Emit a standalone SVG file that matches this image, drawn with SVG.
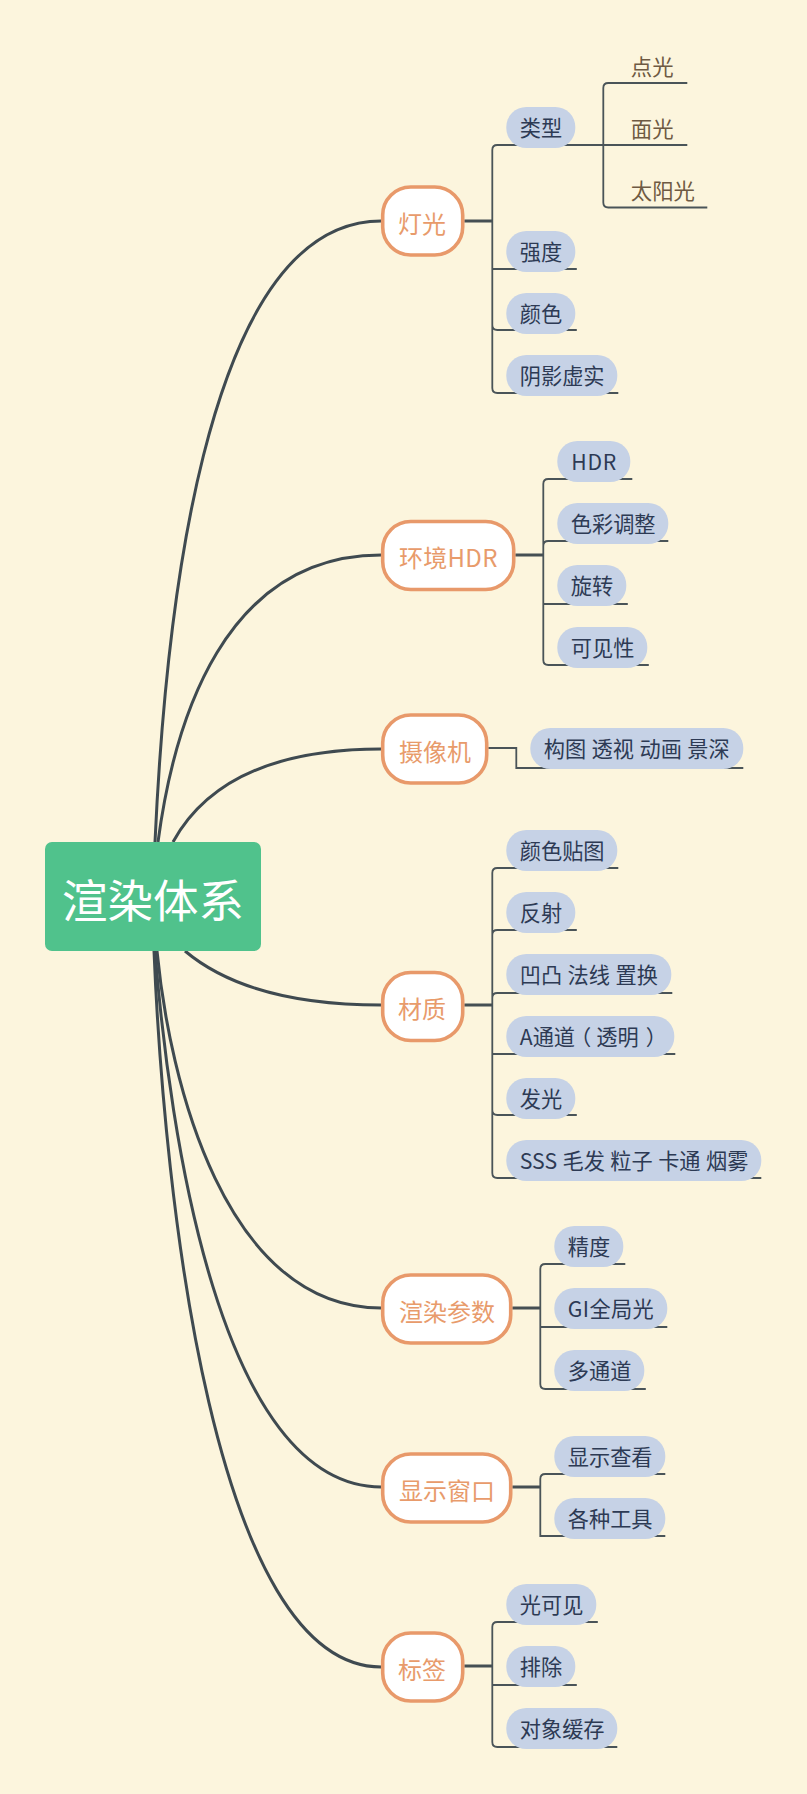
<svg xmlns="http://www.w3.org/2000/svg" width="807" height="1794" viewBox="0 0 807 1794">
<style>
text{font-family:"Noto Sans CJK SC","Noto Sans",sans-serif}
.c{fill:none;stroke:#3f4a50;stroke-width:3}
.t{fill:none;stroke:#4a5458;stroke-width:1.8}
.m{fill:none;stroke:#454f53;stroke-width:3}
.n rect{fill:#fff;stroke:#e8996a;stroke-width:3.6}
.n text{fill:#e89b6b;font-size:24px}
.p rect{fill:#c6d2e6}
.p text{fill:#2d3a54;font-size:21.2px}
.s text{fill:#6e5a43;font-size:21.4px}
.w{word-spacing:.7px}
</style>
<rect width="807" height="1794" fill="#fcf5dd"/>
<g id="connectors" transform="translate(-.7 0)">
<path class="c" d="M155.700,842C165,640 200,221 382,221"/>
<path class="c" d="M158.700,842C175,720 225,555 382,555"/>
<path class="c" d="M173.700,842Q225,749 382,749"/>
<path class="c" d="M185.700,951Q250,1005 382,1005"/>
<path class="c" d="M157.700,951C170,1080 225,1308 382,1308"/>
<path class="c" d="M155.700,951C170,1130 220,1487 382,1487"/>
<path class="c" d="M154.700,951C165,1200 215,1667 382,1667"/>
<path class="m" d="M465,221H493M516,555H544M465,1005H493M513,1308H541M513,1487H541M465,1666H493"/>
<path class="t" d="M489,748H517V768H744"/>
<path class="t" d="M493,221V150Q493,145 498,145H604M493,221V269H577.500M493,221V325Q493,330 498,330H577.500M493,221V388Q493,393 498,393H619"/>
<path class="t" d="M604,145V88Q604,83 609,83H688M604,145H688M604,145V202.500Q604,207.500 609,207.500H708"/>
<path class="t" d="M544,555V484Q544,479 549,479H633M544,555V546Q544,541 549,541H669M544,555V604H628.500M544,555V660Q544,665 549,665H649.500"/>
<path class="t" d="M493,1005V873Q493,868 498,868H619M493,1005V935Q493,930 498,930H577.500M493,1005V998Q493,993 498,993H673M493,1005V1054H676M493,1005V1110Q493,1115 498,1115H577.500M493,1005V1173Q493,1178 498,1178H762"/>
<path class="t" d="M541,1308V1269Q541,1264 546,1264H626M541,1308V1327H668M541,1308V1384Q541,1389 546,1389H646.500"/>
<path class="t" d="M541,1487V1479Q541,1474 546,1474H666M541,1487V1536H666"/>
<path class="t" d="M493,1666V1627Q493,1622 498,1622H598.500M493,1666V1685H577.500M493,1666V1742Q493,1747 498,1747H618"/>
</g>
<g id="root"><rect x="45" y="842" width="216" height="109" rx="7" fill="#50c28c"/><text x="62" y="918" font-size="45.500" fill="#fff">渲染体系</text></g>
<g id="nodes" transform="translate(-.7 0)">
<g id="light" class="n"><rect x="383.400" y="187" width="80" height="68" rx="28"/><text x="398.700" y="233">灯光</text></g>
<g id="hdr" class="n"><rect x="383.400" y="521.500" width="131" height="68" rx="28"/><text x="399.700" y="566.500" letter-spacing=".3">环境HDR</text></g>
<g id="camera" class="n"><rect x="383.400" y="715" width="104" height="68" rx="28"/><text x="399.700" y="761">摄像机</text></g>
<g id="material" class="n"><rect x="383.400" y="972.500" width="80" height="68" rx="28"/><text x="398.700" y="1018">材质</text></g>
<g id="render" class="n"><rect x="383.400" y="1275" width="128" height="68" rx="28"/><text x="399.700" y="1320.500">渲染参数</text></g>
<g id="display" class="n"><rect x="383.400" y="1454" width="128" height="68" rx="28"/><text x="399.700" y="1500">显示窗口</text></g>
<g id="label" class="n"><rect x="383.400" y="1633" width="80" height="68" rx="28"/><text x="398.700" y="1679">标签</text></g>
<g id="light-type" class="p"><rect x="507" y="107" width="69" height="41" rx="20"/><text x="520.500" y="135.700">类型</text></g>
<g id="light-strength" class="p"><rect x="507" y="231" width="69" height="41" rx="20"/><text x="520.500" y="259.700">强度</text></g>
<g id="light-color" class="p"><rect x="507" y="293" width="69" height="41" rx="20"/><text x="520.500" y="321.700">颜色</text></g>
<g id="light-shadow" class="p"><rect x="507" y="355" width="111" height="41" rx="20"/><text x="520.500" y="383.700">阴影虚实</text></g>
<g id="type-point" class="s"><text x="631.500" y="74.500">点光</text></g>
<g id="type-area" class="s"><text x="631.500" y="136.500">面光</text></g>
<g id="type-sun" class="s"><text x="631.500" y="198.500">太阳光</text></g>
<g id="hdr-hdr" class="p"><rect x="558" y="441" width="73" height="41" rx="20"/><text x="572" y="469.700" letter-spacing=".7">HDR</text></g>
<g id="hdr-color" class="p"><rect x="558" y="503" width="111" height="41" rx="20"/><text x="571.500" y="531.700">色彩调整</text></g>
<g id="hdr-rotate" class="p"><rect x="558" y="565" width="69" height="41" rx="20"/><text x="571.500" y="593.700">旋转</text></g>
<g id="hdr-visible" class="p"><rect x="558" y="627" width="90" height="41" rx="20"/><text x="571.500" y="655.700">可见性</text></g>
<g id="camera-items" class="p"><rect x="531" y="728" width="213" height="41" rx="20"/><text class="w" x="544.500" y="756.700">构图 透视 动画 景深</text></g>
<g id="mat-color" class="p"><rect x="507" y="830" width="111" height="41" rx="20"/><text x="520.500" y="858.700">颜色贴图</text></g>
<g id="mat-reflect" class="p"><rect x="507" y="892" width="69" height="41" rx="20"/><text x="520.500" y="920.700">反射</text></g>
<g id="mat-bump" class="p"><rect x="507" y="954" width="165" height="41" rx="20"/><text class="w" x="520.500" y="982.700">凹凸 法线 置换</text></g>
<g id="mat-alpha" class="p"><rect x="507" y="1016" width="168" height="41" rx="20"/><text x="520.500" y="1044.700">A通道<tspan dx="-5">（</tspan><tspan dx="5">透明</tspan><tspan dx="7">）</tspan></text></g>
<g id="mat-emit" class="p"><rect x="507" y="1078" width="69" height="41" rx="20"/><text x="520.500" y="1106.700">发光</text></g>
<g id="mat-sss" class="p"><rect x="507" y="1140" width="255" height="41" rx="20"/><text class="w" x="520.500" y="1168.700">SSS 毛发 粒子 卡通 烟雾</text></g>
<g id="render-precision" class="p"><rect x="555" y="1226" width="69" height="41" rx="20"/><text x="568.500" y="1254.700">精度</text></g>
<g id="render-gi" class="p"><rect x="555" y="1288" width="113" height="41" rx="20"/><text x="568.500" y="1316.700" letter-spacing=".4">GI全局光</text></g>
<g id="render-pass" class="p"><rect x="555" y="1350" width="90" height="41" rx="20"/><text x="568.500" y="1378.700">多通道</text></g>
<g id="display-view" class="p"><rect x="555" y="1436" width="111" height="41" rx="20"/><text x="568.500" y="1464.700">显示查看</text></g>
<g id="display-tools" class="p"><rect x="555" y="1498" width="111" height="41" rx="20"/><text x="568.500" y="1526.700">各种工具</text></g>
<g id="label-light" class="p"><rect x="507" y="1584" width="90" height="41" rx="20"/><text x="520.500" y="1612.700">光可见</text></g>
<g id="label-exclude" class="p"><rect x="507" y="1646" width="69" height="41" rx="20"/><text x="520.500" y="1674.700">排除</text></g>
<g id="label-cache" class="p"><rect x="507" y="1708" width="111" height="41" rx="20"/><text x="520.500" y="1736.700">对象缓存</text></g>
</g>
</svg>
